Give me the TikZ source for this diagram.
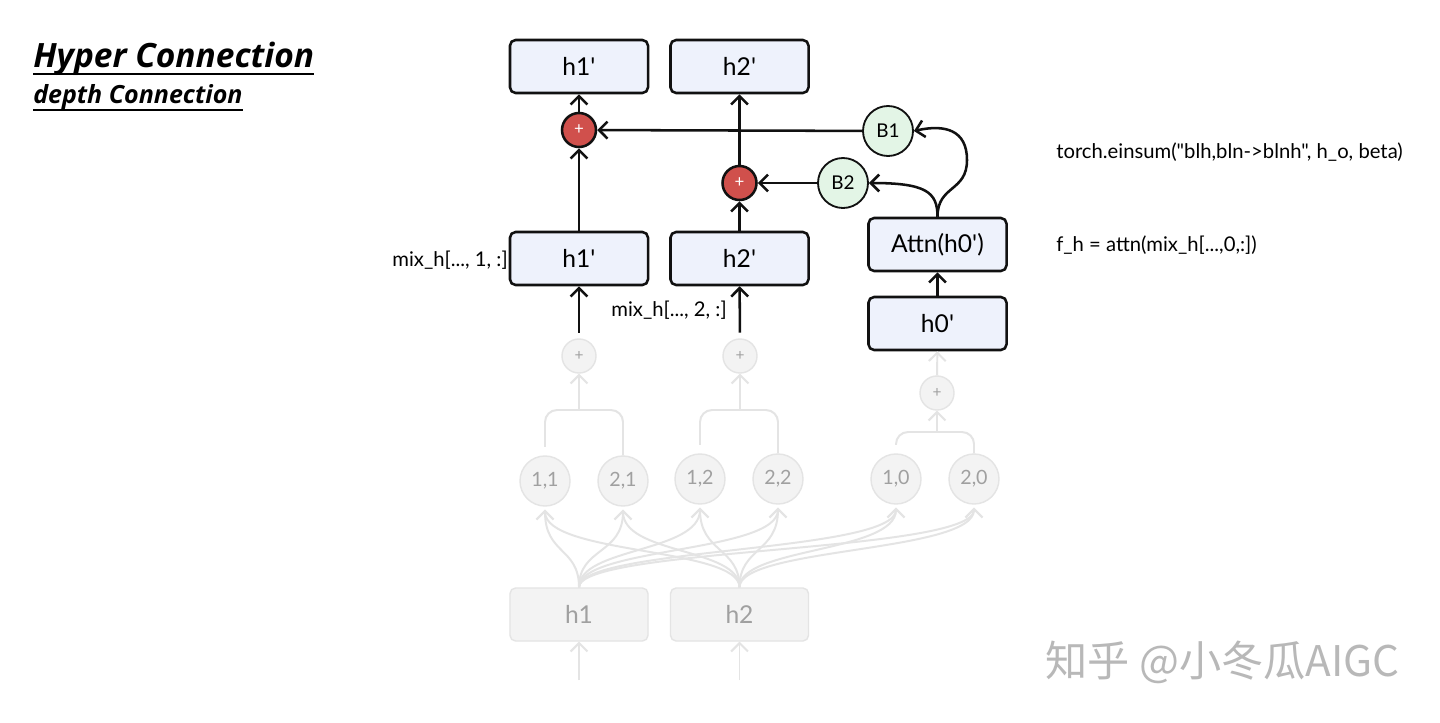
\documentclass[tikz,border=0pt]{standalone}
\usepackage{fontspec}
\setmainfont{Lato}[Ligatures=TeXOff]
\newfontfamily\titlefont{Open Sans}
\newfontfamily\cjkfont{Noto Sans CJK SC}
\usetikzlibrary{arrows.meta}
\definecolor{boxfill}{HTML}{EEF2FC}
\definecolor{redfill}{HTML}{D0504C}
\definecolor{greenfill}{HTML}{E3F5E6}
\definecolor{faintline}{HTML}{E4E4E4}
\definecolor{faintfill}{HTML}{F3F3F3}
\definecolor{fainttext}{HTML}{A0A0A0}
\definecolor{inkc}{HTML}{111111}
\definecolor{wmgray}{HTML}{B8B8B8}
\tikzset{
  box/.style={draw=inkc, line width=1.8pt, rounded corners=4pt, fill=boxfill,
    minimum width=3.45cm, minimum height=1.325cm, inner sep=0pt,
    font=\fontsize{17.5}{20}\selectfont},
  fbox/.style={box, draw=faintline, line width=1pt, fill=faintfill, text=fainttext},
  redc/.style={circle, draw=inkc, line width=1.8pt, fill=redfill, minimum size=0.85cm,
    inner sep=0pt, text=white, font=\fontsize{12}{12}\selectfont},
  greenc/.style={circle, draw=inkc, line width=1.3pt, fill=greenfill, minimum size=1.25cm,
    inner sep=0pt, font=\fontsize{13.5}{15}\selectfont},
  fcirc/.style={circle, draw=faintline, line width=1pt, fill=faintfill, minimum size=1.25cm,
    inner sep=0pt, text=fainttext, font=\fontsize{14}{15}\selectfont},
  fplus/.style={fcirc, minimum size=0.85cm, font=\fontsize{11}{12}\selectfont},
  arr/.style={-{Straight Barb[length=6pt,width=12pt]}, line width=1.8pt, draw=inkc},
  farr/.style={-{Straight Barb[length=6pt,width=12pt]}, line width=1.4pt, draw=faintline},
  fline/.style={line width=1.4pt, draw=faintline, rounded corners=0.3cm},
  lbl/.style={inner sep=0pt, font=\fontsize{14.4}{16}\selectfont},
}
\begin{document}
\begin{tikzpicture}[x=0.025cm, y=-0.025cm]
\useasboundingbox[fill=white] (0,0) rectangle (1440,723);

% title
\node[anchor=base west, inner sep=0pt, font=\titlefont\bfseries\itshape\fontsize{23.8}{26}\selectfont] (title) at (33,67) {Hyper Connection};
\draw[line width=1.4pt] ([yshift=-5pt]title.base west) -- ([yshift=-5pt]title.base east);
\node[anchor=base west, inner sep=0pt, font=\titlefont\bfseries\itshape\fontsize{17.8}{20}\selectfont] (sub) at (33,103) {depth Connection};
\draw[line width=1.2pt] ([yshift=-5pt]sub.base west) -- ([yshift=-5pt]sub.base east);

% faint lower part
\node[fbox] (bh1) at (579,614.5) {h1};
\node[fbox] (bh2) at (739.5,614.5) {h2};
\coordinate (in1) at (579,680);
\coordinate (in2) at (739.5,680);
\draw[farr] (in1) -- (bh1);
\draw[farr] (in2) -- (bh2);

\node[fcirc] (c11) at (545,481) {1,1};
\node[fcirc] (c21) at (623,481) {2,1};
\node[fcirc] (c12) at (700,479) {1,2};
\node[fcirc] (c22) at (778,479) {2,2};
\node[fcirc] (c10) at (896,479) {1,0};
\node[fcirc] (c20) at (974,479) {2,0};

\foreach \t in {c11,c21,c12,c22,c10,c20}{
  \draw[farr, shorten >=2pt] (bh1.north) .. controls +(0,-40) and +(0,48) .. (\t.south);
  \draw[farr, shorten >=2pt] (bh2.north) .. controls +(0,-40) and +(0,48) .. (\t.south);
}

\node[fplus] (fp1) at (579,356) {+};
\node[fplus] (fp2) at (740,356) {+};
\node[fplus] (fp0) at (937,393) {+};

\coordinate (j1) at (579,410);
\coordinate (j2) at (740,410);
\coordinate (j0) at (937,432);
\draw[fline, shorten <=6pt] (c11.north) |- (j1) -| (c21.north);
\draw[fline, shorten <=6pt] (c12.north) |- (j2) -| (c22.north);
\draw[fline, shorten <=6pt] (c10.north) |- (j0) -| (c20.north);
\draw[farr] (j1) -- (fp1);
\draw[farr] (j2) -- (fp2);
\draw[farr] (j0) -- (fp0);

% main part
\node[box] (t1) at (579,66.5) {h1'};
\node[box] (t2) at (739.5,66.5) {h2'};
\node[redc] (p1) at (579,130) {+};
\node[redc] (p2) at (739.5,183) {+};
\node[greenc] (b1) at (888,131) {B1};
\node[greenc] (b2) at (843,183) {B2};
\node[box] (m1) at (579,258.5) {h1'};
\node[box] (m2) at (739.5,258.5) {h2'};
\node[box] (at) at (937.5,244.5) {Attn(h0')};
\node[box] (h0) at (937.5,323.5) {h0'};

\draw[arr] (m1) -- (p1);
\draw[arr] (p1) -- (t1);
\draw[arr] (b1) -- (p1);
\draw[arr] (m2) -- (p2);
\draw[arr] (p2) -- (t2);
\draw[arr] (b2) -- (p2);
\draw[arr] (h0) -- (at);
\draw[arr, shorten <=4pt] (fp1) -- (m1);
\draw[arr, shorten <=4pt] (fp2) -- (m2);
\draw[farr] (fp0) -- (h0);

\draw[arr] (at.north) .. controls (937.5,185) and (967,192) .. (967,160)
  .. controls (967,130) and (945,124) .. (b1.east);
\draw[arr] (at.north) .. controls (937.5,192) and (926,183) .. (b2.east);

% labels
\node[lbl, anchor=east] (l1) at (508,260) {mix\_h[..., 1, :]};
\node[lbl, anchor=east] (l2) at (727,310) {mix\_h[..., 2, :]};
\node[lbl, anchor=west] (l3) at (1056,152) {torch.einsum("blh,bln->blnh", h\_o, beta)};
\node[lbl, anchor=west] (l4) at (1056,245) {f\_h = attn(mix\_h[...,0,:])};

% watermark
\node[anchor=west, inner sep=0pt, text=wmgray, font=\cjkfont\fontsize{30}{32}\selectfont] (wm) at (1045,662) {知乎 @小冬瓜AIGC};
\end{tikzpicture}
\end{document}
